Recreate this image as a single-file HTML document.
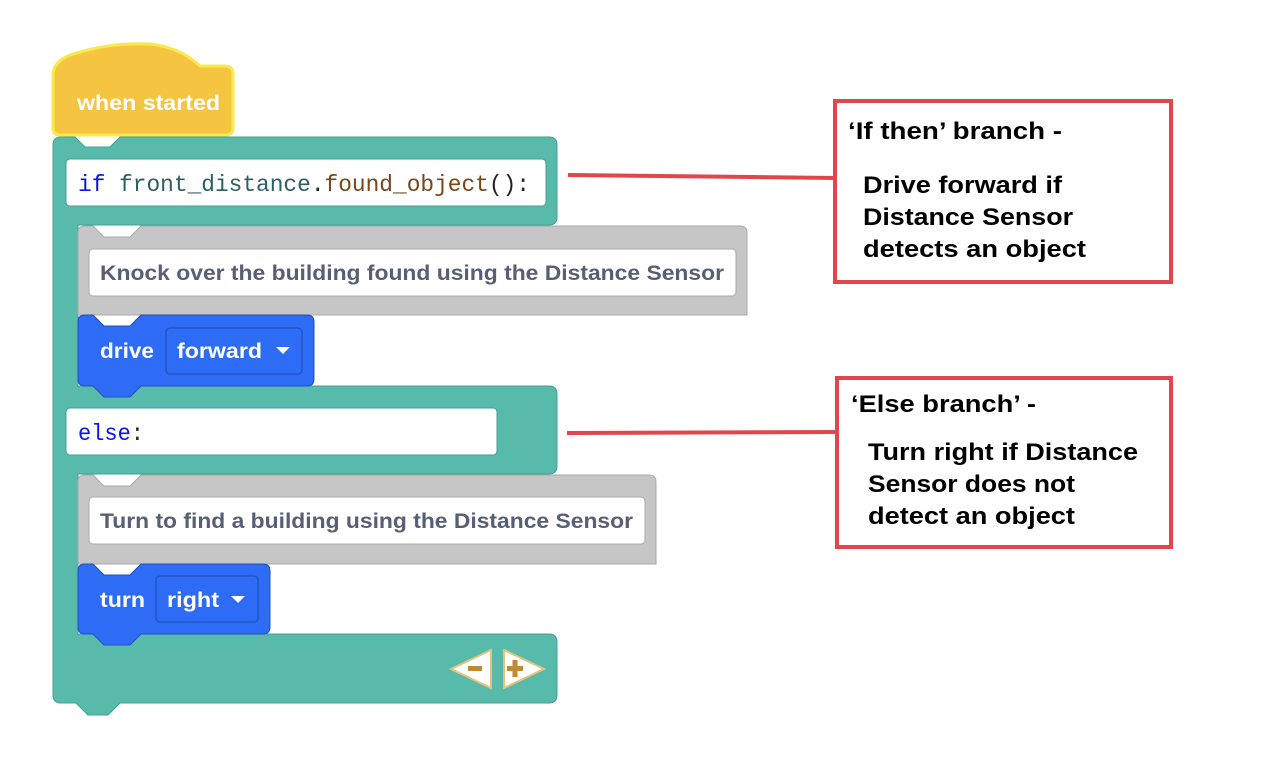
<!DOCTYPE html>
<html><head><style>
body{margin:0;background:#fff;}
svg{display:block}
.b{font-family:"Liberation Sans",sans-serif;font-weight:bold;}
.m{font-family:"Liberation Mono",monospace;font-size:23px;}
</style></head><body>
<svg width="1270" height="778" viewBox="0 0 1270 778" xmlns="http://www.w3.org/2000/svg">
<!-- hat -->
<path d="M53,75 Q53,62 70,55 Q110,42 150,44 Q180,47 200,66 L225,66 Q233,66 233,74 L233,128 Q233,135 225,135 L60,135 Q53,135 53,128 Z" fill="#f5c542" stroke="#f7ea4a" stroke-width="3"/>
<text x="77" y="110" class="b" font-size="21" fill="#fff" textLength="143" lengthAdjust="spacingAndGlyphs">when started</text>
<!-- teal -->
<path d="M53,145 Q53,137 61,137 L75,137 L85,147 L110,147 L120,137 L549,137 Q557,137 557,145 L557,217 Q557,225 549,225 L78,225 L78,386 L549,386 Q557,386 557,394 L557,466 Q557,474 549,474 L78,474 L78,634 L549,634 Q557,634 557,642 L557,695 Q557,703 549,703 L120,703 L108,715 L88,715 L76,703 L61,703 Q53,703 53,695 Z" fill="#58baab" stroke="#45a090"/>
<rect x="66" y="159" width="480" height="47" rx="4" fill="#fff" stroke="#45a090"/>
<text x="78" y="191" class="m" textLength="452" lengthAdjust="spacingAndGlyphs"><tspan fill="#0a14e6">if</tspan> <tspan fill="#2c5e66">front_distance</tspan><tspan fill="#222">.</tspan><tspan fill="#7a4519">found_object</tspan><tspan fill="#222">():</tspan></text>
<rect x="66" y="408" width="431" height="47" rx="4" fill="#fff" stroke="#45a090"/>
<text x="78" y="440" class="m" fill="#0a14e6" textLength="66" lengthAdjust="spacingAndGlyphs">else<tspan fill="#222">:</tspan></text>
<!-- gray 1 -->
<path d="M78,233 Q78,226 85,226 L93,226 L104,237 L130,237 L141,226 L740,226 Q747,226 747,233 L747,315 L78,315 Z" fill="#c6c6c6" stroke="#aaa"/>
<rect x="89" y="249" width="647" height="47" rx="4" fill="#fff" stroke="#aaa"/>
<text x="100" y="280" class="b" font-size="21" fill="#575e75" textLength="624" lengthAdjust="spacingAndGlyphs">Knock over the building found using the Distance Sensor</text>
<!-- blue drive -->
<path d="M78,322 Q78,315 85,315 L93,315 L104,326 L130,326 L141,315 L307,315 Q314,315 314,322 L314,379 Q314,386 307,386 L141,386 L130,397 L104,397 L93,386 L85,386 Q78,386 78,379 Z" fill="#2e6cf5" stroke="#1f50c0"/>
<text x="100" y="358" class="b" font-size="21" fill="#fff" textLength="54" lengthAdjust="spacingAndGlyphs">drive</text>
<rect x="166" y="328" width="136" height="46" rx="4" fill="#2e6cf5" stroke="#1f4bb0"/>
<text x="177" y="358" class="b" font-size="21" fill="#fff" textLength="85" lengthAdjust="spacingAndGlyphs">forward</text>
<path d="M276,347 L290,347 L283,354 Z" fill="#fff"/>
<!-- gray 2 -->
<path d="M78,482 Q78,475 85,475 L93,475 L104,486 L130,486 L141,475 L649,475 Q656,475 656,482 L656,564 L78,564 Z" fill="#c6c6c6" stroke="#aaa"/>
<rect x="89" y="497" width="556" height="47" rx="4" fill="#fff" stroke="#aaa"/>
<text x="100" y="528" class="b" font-size="21" fill="#575e75" textLength="533" lengthAdjust="spacingAndGlyphs">Turn to find a building using the Distance Sensor</text>
<!-- blue turn -->
<path d="M78,571 Q78,564 85,564 L93,564 L104,575 L130,575 L141,564 L263,564 Q270,564 270,571 L270,627 Q270,634 263,634 L141,634 L130,645 L104,645 L93,634 L85,634 Q78,634 78,627 Z" fill="#2e6cf5" stroke="#1f50c0"/>
<text x="100" y="607" class="b" font-size="21" fill="#fff" textLength="45" lengthAdjust="spacingAndGlyphs">turn</text>
<rect x="156" y="576" width="102" height="46" rx="4" fill="#2e6cf5" stroke="#1f4bb0"/>
<text x="167" y="607" class="b" font-size="21" fill="#fff" textLength="52" lengthAdjust="spacingAndGlyphs">right</text>
<path d="M231,596 L245,596 L238,603 Z" fill="#fff"/>
<!-- -/+ -->
<path d="M491,650 L491,688 L451,669 Z" fill="#fff" stroke="#e8c07a" stroke-width="2"/>
<rect x="468" y="666" width="14" height="5" fill="#c08a30"/>
<path d="M504,650 L504,688 L544,669 Z" fill="#fff" stroke="#e8c07a" stroke-width="2"/>
<rect x="507" y="666" width="16" height="5" fill="#c08a30"/><rect x="512.5" y="660" width="5" height="17" fill="#c08a30"/>
<!-- callouts -->
<line x1="568" y1="175" x2="836" y2="178" stroke="#e0474c" stroke-width="4"/>
<line x1="567" y1="433" x2="837" y2="432" stroke="#e0474c" stroke-width="4"/>
<rect x="835" y="101" width="336" height="181" fill="#fff" stroke="#e0474c" stroke-width="4"/>
<rect x="837" y="378" width="334" height="169" fill="#fff" stroke="#e0474c" stroke-width="4"/>
<g class="b" font-size="24" fill="#000" lengthAdjust="spacingAndGlyphs">
<text x="848" y="139" textLength="214" lengthAdjust="spacingAndGlyphs">‘If then’ branch -</text>
<text x="863" y="193" textLength="199" lengthAdjust="spacingAndGlyphs">Drive forward if</text>
<text x="863" y="225" textLength="210" lengthAdjust="spacingAndGlyphs">Distance Sensor</text>
<text x="863" y="257" textLength="223" lengthAdjust="spacingAndGlyphs">detects an object</text>
<text x="851" y="412" textLength="185" lengthAdjust="spacingAndGlyphs">‘Else branch’ -</text>
<text x="868" y="460" textLength="270" lengthAdjust="spacingAndGlyphs">Turn right if Distance</text>
<text x="868" y="492" textLength="207" lengthAdjust="spacingAndGlyphs">Sensor does not</text>
<text x="868" y="524" textLength="207" lengthAdjust="spacingAndGlyphs">detect an object</text>
</g>
</svg>
</body></html>
